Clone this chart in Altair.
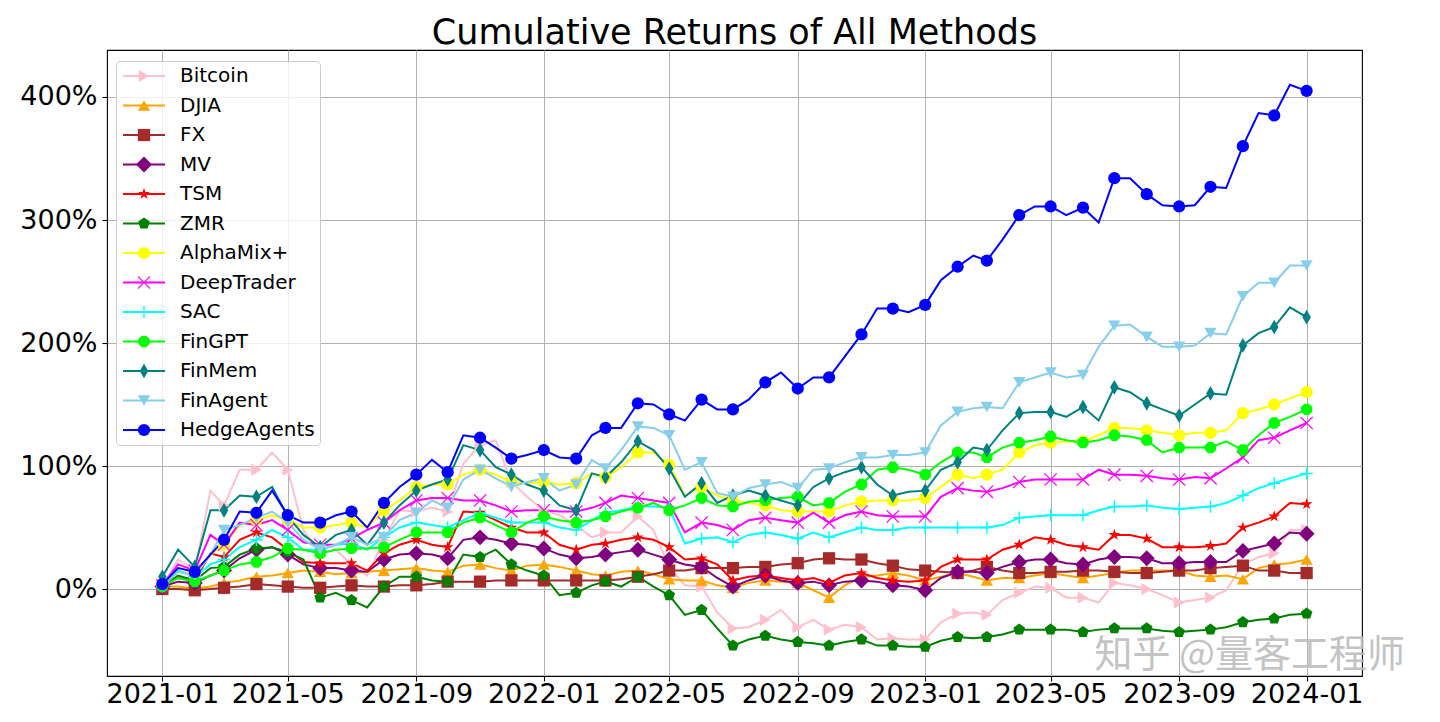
import altair as alt
import pandas as pd

# ---------------- data (values in %) ----------------
months = pd.date_range("2021-01-01", "2024-01-01", freq="MS")
dates = []
for m in months:
    dates.append(m.strftime("%Y-%m-%dT00:00:00"))
    if m < months[-1]:
        dates.append((m + pd.Timedelta(days=15)).strftime("%Y-%m-%dT00:00:00"))

names = ["Bitcoin", "DJIA", "FX", "MV", "TSM", "ZMR", "AlphaMix+", "DeepTrader",
         "SAC", "FinGPT", "FinMem", "FinAgent", "HedgeAgents"]
colors = ["#FFC0CB", "#FFA500", "#A52A2A", "#800080", "#FF0000", "#008000", "#FFFF00",
          "#FF00FF", "#00FFFF", "#00FF00", "#008080", "#87CEEB", "#0000FF"]

bitcoin = [2, 24, 15, 80, 68, 97, 97, 111, 97, 48, 29, 32, 20, 11, 40, 64, 63, 66, 63, 102,
           117, 121, 87, 75, 64, 60, 52, 42, 46, 46, 59, 48, 18, 3, 2, -19, -32, -31, -25, -17,
           -31, -25, -33, -29, -31, -41, -40, -41, -41, -27, -20, -19, -21, -9, -3, 2, 1, -7, -7, -11,
           5, 3, 0, -5, -11, -9, -7, -1, 20, 26, 29, 48, 48]
djia = [2, 2, 0, 2, 5, 7, 10, 11, 13, 15, 14, 12, 13, 14, 15, 16, 17, 15, 14, 19,
        20, 17, 15, 19, 20, 18, 15, 12, 11, 14, 15, 12, 8, 7, 7, 3, 1, 5, 7, 6,
        5, -1, -7, 3, 10, 11, 13, 11, 7, 10, 13, 10, 7, 9, 9, 11, 13, 11, 9, 11,
        13, 15, 15, 15, 15, 11, 10, 11, 8, 17, 20, 21, 24]
fx = [0, 0, -1, 0, 1, 2, 4, 3, 2, 1, 1, 2, 3, 2, 2, 3, 3, 4, 6, 6,
      6, 7, 7, 7, 7, 7, 7, 7, 7, 8, 10, 12, 15, 15, 17, 17, 17, 18, 18, 20,
      21, 24, 25, 24, 24, 21, 19, 16, 15, 14, 13, 15, 18, 15, 13, 13, 14, 14, 15, 15,
      14, 13, 13, 14, 15, 15, 17, 18, 19, 15, 15, 13, 13]
mv = [2, 6, 5, 11, 15, 25, 32, 34, 28, 20, 17, 17, 15, 14, 24, 28, 29, 28, 25, 40,
      42, 40, 37, 36, 33, 28, 25, 26, 28, 30, 32, 28, 24, 20, 18, 9, 2, 7, 11, 7,
      5, 6, 3, 6, 7, 6, 3, 2, -1, 9, 14, 14, 13, 18, 22, 24, 24, 21, 20, 24,
      26, 26, 25, 21, 21, 22, 22, 22, 31, 34, 37, 46, 45]
tsm = [3, 9, 7, 29, 26, 40, 46, 42, 32, 22, 21, 21, 21, 15, 29, 36, 40, 36, 34, 63,
       62, 56, 50, 46, 46, 36, 32, 36, 37, 40, 42, 40, 34, 24, 25, 20, 7, 10, 11, 9,
       7, 9, 5, 11, 13, 9, 7, 6, 7, 18, 24, 24, 24, 32, 36, 42, 40, 36, 34, 32,
       44, 44, 41, 34, 34, 34, 35, 37, 50, 54, 59, 70, 69]
zmr = [2, 11, 7, 17, 18, 28, 33, 34, 30, 24, -7, -3, -9, -15, 2, 10, 10, 7, 6, 28,
       26, 32, 20, 15, 11, -5, -3, 3, 6, 2, 10, 2, -5, -21, -17, -32, -46, -41, -38, -41,
       -43, -44, -46, -43, -41, -46, -46, -47, -47, -42, -39, -40, -39, -37, -33, -33, -33, -33, -35, -33,
       -32, -32, -32, -34, -35, -34, -33, -31, -27, -25, -24, -21, -20]
alphamix = [3, 15, 11, 28, 36, 52, 56, 60, 56, 50, 50, 52, 54, 50, 64, 72, 83, 85, 85, 93,
            97, 93, 87, 86, 87, 85, 86, 94, 91, 99, 111, 111, 101, 76, 83, 76, 72, 70, 68, 64,
            63, 63, 63, 68, 71, 72, 72, 72, 74, 83, 93, 90, 93, 97, 111, 117, 119, 120, 120, 125,
            131, 131, 129, 127, 125, 127, 127, 129, 143, 146, 150, 155, 160]
deeptrader = [3, 20, 15, 44, 36, 54, 52, 56, 48, 38, 36, 36, 41, 48, 54, 64, 72, 74, 74, 72,
              72, 68, 63, 64, 64, 63, 63, 66, 70, 76, 74, 72, 70, 46, 54, 52, 48, 56, 58, 56,
              54, 62, 54, 60, 63, 60, 59, 59, 59, 75, 82, 80, 79, 82, 87, 89, 89, 89, 89, 97,
              93, 93, 92, 90, 89, 91, 90, 98, 107, 121, 123, 129, 135]
sac = [2, 15, 10, 20, 24, 34, 40, 48, 42, 32, 32, 36, 37, 32, 42, 50, 54, 52, 50, 56,
       62, 58, 54, 54, 54, 50, 48, 56, 62, 64, 67, 67, 66, 37, 41, 42, 38, 44, 46, 44,
       41, 46, 42, 46, 50, 48, 48, 50, 50, 50, 50, 50, 50, 52, 58, 59, 60, 60, 60, 64,
       67, 67, 68, 66, 65, 66, 67, 70, 76, 82, 86, 90, 94]
fingpt = [2, 9, 6, 11, 15, 20, 22, 26, 33, 32, 29, 32, 33, 33, 34, 40, 46, 46, 46, 54,
          58, 52, 46, 54, 59, 56, 54, 56, 59, 63, 66, 70, 64, 68, 74, 68, 67, 71, 72, 74,
          75, 68, 70, 79, 85, 97, 99, 97, 93, 103, 111, 111, 107, 115, 119, 121, 124, 121, 119, 121,
          125, 124, 121, 111, 115, 115, 115, 120, 113, 125, 135, 140, 146]
finmem = [10, 32, 18, 64, 64, 76, 75, 83, 59, 44, 34, 44, 48, 36, 54, 68, 80, 85, 89, 117,
          113, 99, 93, 85, 80, 68, 64, 94, 91, 103, 120, 113, 98, 75, 86, 70, 76, 80, 76, 72,
          68, 83, 90, 95, 99, 85, 76, 79, 80, 97, 103, 115, 113, 129, 143, 144, 144, 140, 148, 137,
          164, 160, 151, 146, 141, 150, 159, 158, 198, 208, 213, 229, 221]
finagent = [2, 14, 11, 28, 48, 52, 58, 63, 54, 40, 32, 36, 42, 36, 42, 56, 62, 72, 66, 89,
            97, 90, 83, 87, 90, 80, 85, 105, 98, 113, 132, 131, 125, 97, 103, 78, 75, 82, 85, 87,
            82, 97, 98, 103, 107, 107, 109, 109, 111, 133, 144, 147, 148, 147, 168, 172, 176, 172, 174, 197,
            214, 215, 205, 197, 197, 198, 208, 207, 238, 249, 249, 263, 263]
hedgeagents = [4, 17, 14, 28, 40, 63, 62, 80, 60, 54, 54, 60, 63, 50, 70, 83, 93, 105, 95, 125,
               123, 115, 106, 109, 113, 107, 106, 125, 131, 131, 151, 150, 142, 137, 154, 146, 146, 154, 168, 176,
               163, 172, 172, 189, 207, 228, 228, 225, 231, 251, 262, 271, 267, 284, 304, 311, 311, 304, 310, 298,
               334, 334, 321, 312, 311, 312, 327, 326, 360, 387, 385, 410, 405]

series = [bitcoin, djia, fx, mv, tsm, zmr, alphamix, deeptrader, sac, fingpt, finmem, finagent, hedgeagents]

rows = []
for name, vals in zip(names, series):
    for d, v in zip(dates, vals):
        rows.append({"date": d, "Method": name, "value": v})
df = pd.DataFrame(rows)
markers = df[df["date"].str[8:10] == "01"].copy()

# marker shapes (matplotlib-like)
star = ("M0,-1L0.225,-0.309L0.951,-0.309L0.363,0.118L0.588,0.809L0,0.382"
        "L-0.588,0.809L-0.363,0.118L-0.951,-0.309L-0.225,-0.309Z")
pentagon = "M0,-1L0.951,-0.309L0.588,0.809L-0.588,0.809L-0.951,-0.309Z"
xmark = ("M-0.929,-1.071L0,-0.141L0.929,-1.071L1.071,-0.929L0.141,0L1.071,0.929"
         "L0.929,1.071L0,0.141L-0.929,1.071L-1.071,0.929L-0.141,0L-1.071,-0.929Z")
plus = "M-1,-0.12H-0.12V-1H0.12V-0.12H1V0.12H0.12V1H-0.12V0.12H-1Z"
octagon = ("M0.383,-0.924L0.924,-0.383L0.924,0.383L0.383,0.924L-0.383,0.924"
           "L-0.924,0.383L-0.924,-0.383L-0.383,-0.924Z")
diamond = "M0,-1.3L1.3,0L0,1.3L-1.3,0Z"
thin_diamond = "M0,-1.2L0.7,0L0,1.2L-0.7,0Z"
shapes = ["triangle-right", "triangle-up", "square", diamond, star, pentagon,
          "circle", xmark, plus, octagon, thin_diamond, "triangle-down", "circle"]

x_ticks = [alt.DateTime(year=y, month=m, date=1) for y, m in
           [(2021, 1), (2021, 5), (2021, 9), (2022, 1), (2022, 5), (2022, 9),
            (2023, 1), (2023, 5), (2023, 9), (2024, 1)]]
y_ticks = [0, 100, 200, 300, 400]

FONT = "DejaVu Sans"

x_enc = alt.X("date:T",
              scale=alt.Scale(domain=[alt.DateTime(year=2020, month=11, date=9),
                                      alt.DateTime(year=2024, month=2, date=23)], nice=False),
              axis=alt.Axis(values=x_ticks, format="%Y-%m", title=None, labelAngle=0,
                            labelPadding=0, tickSize=5))
y_enc = alt.Y("value:Q",
              scale=alt.Scale(domain=[-70.7, 438.2], nice=False, zero=False),
              axis=alt.Axis(values=y_ticks, labelExpr="datum.value + '%'", title=None,
                            labelPadding=5, tickSize=5))

legend_lines = alt.Legend(title=None, orient="none", legendX=9, legendY=11,
                          symbolType="M-1.53,0H6.49", symbolSize=110, symbolStrokeWidth=2,
                          labelFont=FONT, labelFontSize=20, labelColor="black",
                          labelOffset=39, rowPadding=9.5, padding=5,
                          fillColor="rgba(255,255,255,0.8)", strokeColor="#cccccc",
                          cornerRadius=4, symbolOpacity=1)
legend_marks = alt.Legend(title=None, orient="none", legendX=22, legendY=11,
                          symbolSize=150, symbolStrokeWidth=0,
                          labelFont=FONT, labelFontSize=20, labelOffset=39,
                          labelExpr="''", rowPadding=9.5, padding=5, symbolOpacity=1)

lines = alt.Chart(df).mark_line(strokeWidth=2).encode(
    x=x_enc, y=y_enc,
    color=alt.Color("Method:N", scale=alt.Scale(domain=names, range=colors),
                    legend=legend_lines),
)

points = alt.Chart(markers).mark_point(filled=True, size=150, opacity=1).encode(
    x=x_enc, y=y_enc,
    color=alt.Color("Method:N", scale=alt.Scale(domain=names, range=colors),
                    legend=legend_marks),
    shape=alt.Shape("Method:N", scale=alt.Scale(domain=names, range=shapes),
                    legend=legend_marks),
)

watermark = alt.Chart(pd.DataFrame({"t": ["知乎 @量客工程师"]})).mark_text(
    font="Noto Sans CJK SC", fontSize=38, color="#bdbdbd", opacity=0.9,
    align="right", baseline="middle"
).encode(text="t:N", x=alt.value(1298), y=alt.value(606))

chart = alt.layer(lines, points, watermark).resolve_scale(
    color="independent", shape="independent"
).properties(
    width=1255, height=626,
    title=alt.TitleParams("Cumulative Returns of All Methods", fontSize=35, font=FONT,
                          fontWeight="normal", color="black", anchor="middle",
                          frame="group", offset=5, baseline="alphabetic", dy=34),
    autosize=alt.AutoSizeParams(type="none"),
    padding={"left": 99, "top": 42, "right": 70, "bottom": 40},
).configure_view(
    stroke="black", strokeWidth=1.1
).configure_axis(
    labelFont=FONT, labelFontSize=27, labelColor="black",
    grid=True, gridColor="#b0b0b0", gridWidth=1,
    domain=False, tickColor="black", tickWidth=1.1,
)

chart.save("out.html", embed_options={"renderer": "svg", "actions": False})
